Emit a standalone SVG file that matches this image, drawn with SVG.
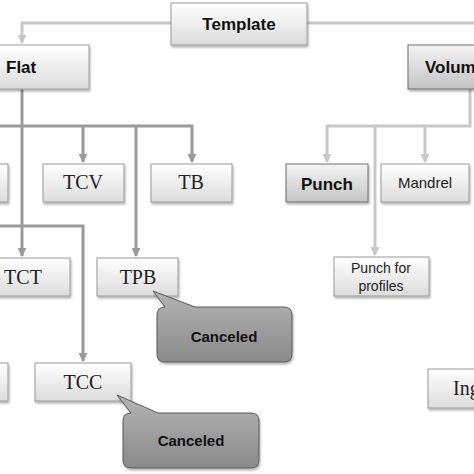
<svg xmlns="http://www.w3.org/2000/svg" width="474" height="474" viewBox="0 0 474 474">
<defs>
<linearGradient id="gLight" x1="0" y1="0" x2="0" y2="1"><stop offset="0" stop-color="#ffffff"/><stop offset="1" stop-color="#dcdcdc"/></linearGradient>
<linearGradient id="gMid" x1="0" y1="0" x2="0" y2="1"><stop offset="0" stop-color="#f4f4f4"/><stop offset="1" stop-color="#c4c4c4"/></linearGradient>
<linearGradient id="gDark" x1="0" y1="0" x2="0" y2="1"><stop offset="0" stop-color="#b4b4b4"/><stop offset="1" stop-color="#8a8a8a"/></linearGradient>
<filter id="sh" x="-20%" y="-20%" width="140%" height="150%"><feDropShadow dx="1" dy="2" stdDeviation="1.2" flood-color="#000" flood-opacity="0.3"/></filter>
<marker id="aD" viewBox="0 0 10 10" refX="9" refY="5" markerWidth="3" markerHeight="3" orient="auto"><path d="M0,0 L10,5 L0,10 z" fill="#9a9a9a"/></marker>
<marker id="aL" viewBox="0 0 10 10" refX="9" refY="5" markerWidth="3" markerHeight="3" orient="auto"><path d="M0,0 L10,5 L0,10 z" fill="#c8c8c8"/></marker>
<style>
.bx{fill:url(#gLight);stroke:#9a9a9a;stroke-width:1;filter:url(#sh)}
.bm{fill:url(#gMid);stroke:#6e6e6e;stroke-width:1;filter:url(#sh)}
.cb{fill:url(#gDark);stroke:#5a5a5a;stroke-width:1;filter:url(#sh)}
.ld{fill:none;stroke:#9a9a9a;stroke-width:3}
.ll{fill:none;stroke:#c8c8c8;stroke-width:3}
.sb{font-family:"Liberation Sans",Arial,sans-serif;font-weight:bold;fill:#111}
.sn{font-family:"Liberation Sans",Arial,sans-serif;fill:#222}
.sf{font-family:"Liberation Serif","Times New Roman",serif;fill:#222;font-size:20px}
</style>
</defs>
<g id="connectors">
<path class="ll" d="M171,23 H22 V43" marker-end="url(#aL)"/>
<path class="ll" d="M307,23 H480"/>
<path class="ld" d="M22,89 V256" marker-end="url(#aD)"/>
<path class="ld" d="M0,126 H192 V162" marker-end="url(#aD)"/>
<path class="ld" d="M83,126 V162" marker-end="url(#aD)"/>
<path class="ld" d="M136,126 V256" marker-end="url(#aD)"/>
<path class="ld" d="M0,226 H83 V361" marker-end="url(#aD)"/>
<path class="ll" d="M470,89 V126 H327 V162" marker-end="url(#aL)"/>
<path class="ll" d="M375,126 V255" marker-end="url(#aL)"/>
<path class="ll" d="M425,126 V162" marker-end="url(#aL)"/>
</g>
<g id="template"><rect class="bx" x="171" y="3" width="136" height="42"/><text class="sb" x="239" y="30" font-size="17" text-anchor="middle">Template</text></g>
<g id="flat"><rect class="bx" x="-30" y="45" width="119" height="44"/><text class="sb" x="6" y="73" font-size="17">Flat</text></g>
<g id="volume"><rect class="bm" x="408" y="45" width="80" height="44"/><text class="sb" x="425" y="73" font-size="17">Volume</text></g>
<g id="left1"><rect class="bx" x="-30" y="164" width="38" height="38"/></g>
<g id="tcv"><rect class="bx" x="43" y="164" width="81" height="38"/><text class="sf" x="83" y="189" text-anchor="middle">TCV</text></g>
<g id="tb"><rect class="bx" x="151" y="164" width="81" height="38"/><text class="sf" x="191" y="189" text-anchor="middle">TB</text></g>
<g id="punch"><rect class="bm" x="286" y="164" width="82" height="38"/><text class="sb" x="327" y="190" font-size="17" text-anchor="middle" font-weight="normal" style="font-weight:600">Punch</text></g>
<g id="mandrel"><rect class="bx" x="381" y="164" width="88" height="38"/><text class="sn" x="425" y="188" font-size="15" text-anchor="middle">Mandrel</text></g>
<g id="tct"><rect class="bx" x="-24" y="258" width="94" height="38"/><text class="sf" x="23" y="284" text-anchor="middle">TCT</text></g>
<g id="tpb"><rect class="bx" x="97" y="258" width="81" height="38"/><text class="sf" x="138" y="284" text-anchor="middle">TPB</text></g>
<g id="pfp"><rect class="bx" x="334" y="257" width="95" height="39"/><text class="sn" x="381" y="273" font-size="14" text-anchor="middle">Punch for</text><text class="sn" x="381" y="291" font-size="14" text-anchor="middle">profiles</text></g>
<g id="cancel1"><path class="cb" d="M165,307 L153,291 L195,307 H284 Q292,307 292,315 V354 Q292,362 284,362 H165 Q157,362 157,354 V315 Q157,307 165,307 Z"/><text class="sb" x="224" y="342" font-size="15" text-anchor="middle">Canceled</text></g>
<g id="left2"><rect class="bx" x="-30" y="363" width="38" height="38"/></g>
<g id="tcc"><rect class="bx" x="35" y="363" width="96" height="38"/><text class="sf" x="83" y="389" text-anchor="middle">TCC</text></g>
<g id="cancel2"><path class="cb" d="M131,413 L117,395 L158,413 H251 Q259,413 259,421 V460 Q259,468 251,468 H131 Q123,468 123,460 V421 Q123,413 131,413 Z"/><text class="sb" x="191" y="446" font-size="15" text-anchor="middle">Canceled</text></g>
<g id="ing"><rect class="bx" x="428" y="369" width="60" height="39"/><text class="sf" x="453" y="395">Ing</text></g>
</svg>
